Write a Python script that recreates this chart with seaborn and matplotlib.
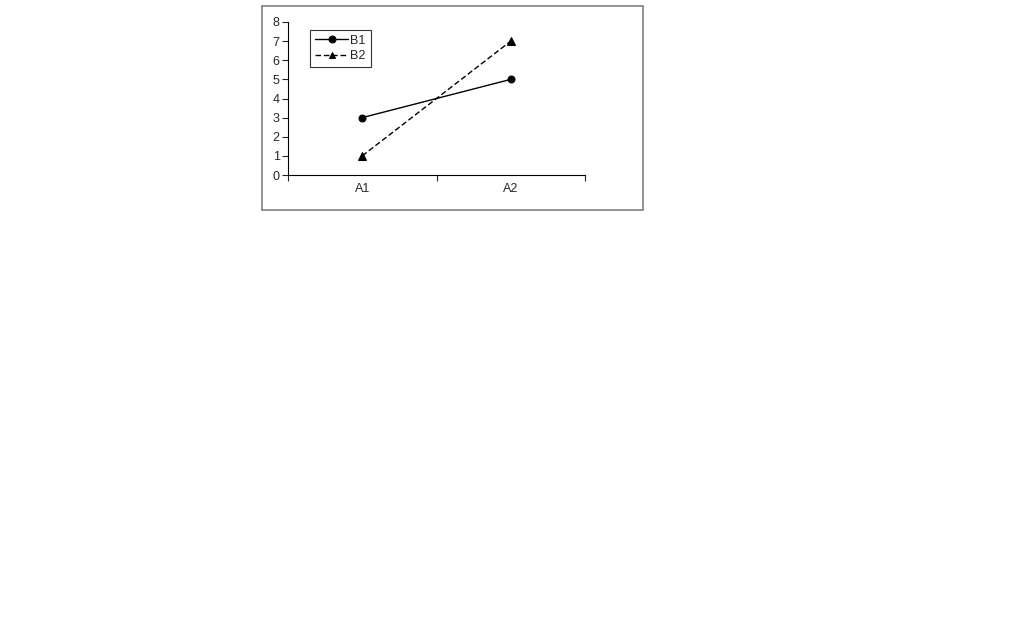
import matplotlib
matplotlib.use("Agg")
import matplotlib.pyplot as plt
import matplotlib.patches as patches
import pandas as pd
import seaborn as sns

# dati del grafico
categories = ["A1", "A2"]
series_names = ["B1", "B2"]
b1_values = [3, 5]
b2_values = [1, 7]
y_ticks = [0, 1, 2, 3, 4, 5, 6, 7, 8]


def main():
    df = pd.DataFrame({
        "A": categories * 2,
        "valore": b1_values + b2_values,
        "B": [series_names[0]] * 2 + [series_names[1]] * 2,
    })

    sns.set_style("white")
    plt.rcParams["font.family"] = ["Liberation Sans", "DejaVu Sans"]

    fig = plt.figure(figsize=(10.24, 6.4), dpi=100)
    ax = fig.add_axes([288 / 1024, 1 - 175 / 640, 297 / 1024, 153 / 640])

    # cornice esterna grigia
    fig.patches.append(patches.Rectangle(
        (262 / 1024, 1 - 210 / 640), 381 / 1024, 204 / 640,
        transform=fig.transFigure, fill=False, edgecolor="#808080", linewidth=1.2))

    sns.lineplot(data=df, x="A", y="valore", hue="B", style="B",
                 palette={"B1": "black", "B2": "black"},
                 markers={"B1": "o", "B2": "^"},
                 dashes={"B1": "", "B2": (4, 2)},
                 markersize=5, linewidth=1, markeredgecolor="black",
                 ax=ax)
    # triangolo un po' piu' grande
    for line in ax.get_lines():
        if line.get_marker() == "^":
            line.set_markersize(6)

    ax.set_xlim(-0.5, 1.5)
    ax.set_ylim(0, 8)
    ax.set_yticks(y_ticks)
    ax.set_xticks([-0.5, 0.5, 1.5])
    ax.set_xticklabels([])
    ax.set_xticks([0, 1], minor=True)
    ax.set_xticklabels(categories, minor=True)
    ax.tick_params(axis="x", which="major", length=4, width=0.8, direction="out", bottom=True)
    ax.tick_params(axis="x", which="minor", length=0, labelsize=9, pad=6)
    ax.tick_params(axis="y", length=4, width=0.8, direction="out", left=True, labelsize=9, pad=2)
    ax.set_xlabel("")
    ax.set_ylabel("")

    for s in ["top", "right"]:
        ax.spines[s].set_visible(False)
    for s in ["left", "bottom"]:
        ax.spines[s].set_color("black")
        ax.spines[s].set_linewidth(0.8)

    leg = ax.legend(loc="upper left", bbox_to_anchor=(0.075, 0.95), frameon=True,
                    fancybox=False, fontsize=9, handlelength=2.6,
                    handletextpad=0.2, borderpad=0.4, labelspacing=0.3,
                    borderaxespad=0)
    leg.get_frame().set_edgecolor("black")
    leg.get_frame().set_linewidth(0.8)
    for h in leg.legend_handles:
        h.set_markersize(5)

    fig.savefig("out.png", dpi=100)


if __name__ == "__main__":
    main()
